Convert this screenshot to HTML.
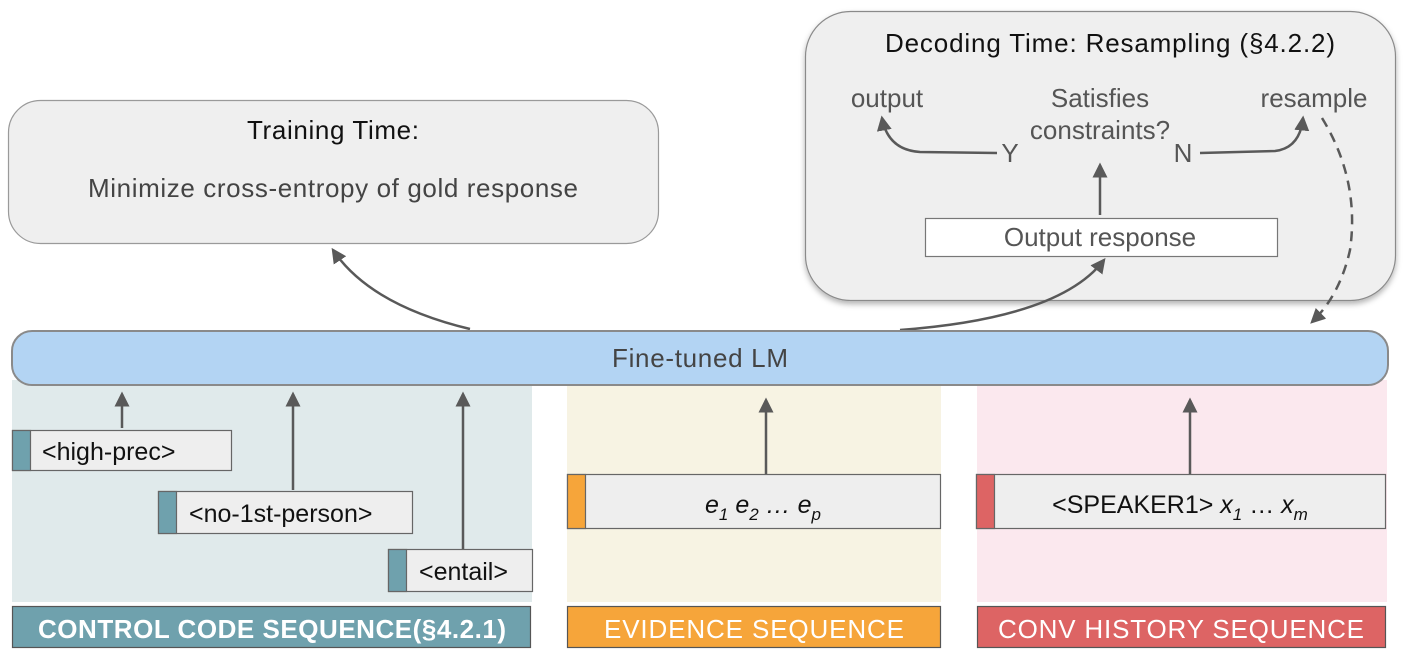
<!DOCTYPE html>
<html><head><meta charset="utf-8"><style>
html,body{margin:0;padding:0;background:#fff;}
svg{display:block;font-family:"Liberation Sans",sans-serif;}
</style></head><body>
<svg width="1409" height="661" viewBox="0 0 1409 661" xmlns="http://www.w3.org/2000/svg">
<defs>
<marker id="ah" viewBox="0 0 12 12" refX="10" refY="6" markerWidth="15" markerHeight="15" orient="auto-start-reverse" markerUnits="userSpaceOnUse">
<path d="M0,0 L12,6 L0,12 z" fill="#595959"/>
</marker>
<filter id="sh" x="-5%" y="-5%" width="110%" height="115%"><feDropShadow dx="0" dy="3" stdDeviation="3" flood-color="#000" flood-opacity="0.3"/></filter>
</defs>
<!-- panels -->
<rect x="12" y="380" width="520" height="222" fill="#e0eaeb"/>
<rect x="567" y="380" width="374" height="222" fill="#f7f3e3"/>
<rect x="977" y="380" width="410" height="222" fill="#fbe8ee"/>
<!-- training box -->
<rect x="8.5" y="100.5" width="650" height="143" rx="32" fill="#efefef" stroke="#9a9a9a" stroke-width="1.2"/>
<text x="333" y="139" font-size="26" text-anchor="middle" fill="#111" textLength="172">Training Time:</text>
<text x="333" y="197" font-size="26" text-anchor="middle" fill="#444" textLength="490">Minimize cross-entropy of gold response</text>
<!-- decoding box -->
<rect x="805.5" y="11.5" width="590" height="289" rx="45" fill="#efefef" stroke="#8a8a8a" stroke-width="1.2" filter="url(#sh)"/>
<text x="1110" y="52" font-size="26" text-anchor="middle" fill="#111" textLength="450">Decoding Time: Resampling (§4.2.2)</text>
<text x="887" y="107" font-size="26" text-anchor="middle" fill="#555">output</text>
<text x="1100" y="107" font-size="26" text-anchor="middle" fill="#555">Satisfies</text>
<text x="1100" y="139" font-size="26" text-anchor="middle" fill="#555">constraints?</text>
<text x="1314" y="107" font-size="26" text-anchor="middle" fill="#555">resample</text>
<text x="1010" y="162" font-size="26" text-anchor="middle" fill="#555">Y</text>
<text x="1183" y="162" font-size="26" text-anchor="middle" fill="#555">N</text>
<rect x="925.5" y="218.5" width="352" height="38" fill="#fff" stroke="#777" stroke-width="1.2"/>
<text x="1100" y="246" font-size="26" text-anchor="middle" fill="#555">Output response</text>
<g stroke="#595959" stroke-width="2.5" fill="none">
<path d="M997,153 L920,152 Q888,150 882,118" marker-end="url(#ah)"/>
<path d="M1200,153 L1275,151 Q1300,148 1303,118" marker-end="url(#ah)"/>
<path d="M1100,215 L1100,165" marker-end="url(#ah)"/>
<path d="M470,329 Q370,305 333,250" marker-end="url(#ah)"/>
<path d="M900,330 Q1060,318 1104,260" marker-end="url(#ah)"/>
<path d="M1322,118 Q1360,180 1350,250 Q1340,295 1312,322" stroke-dasharray="10,7" marker-end="url(#ah)"/>
</g>
<!-- LM bar -->
<rect x="12" y="331" width="1376" height="54" rx="20" fill="#b3d4f3" stroke="#8a8a8a" stroke-width="2"/>
<text x="700" y="367" font-size="26" text-anchor="middle" fill="#444" textLength="176">Fine-tuned LM</text>
<!-- token arrows -->
<g stroke="#595959" stroke-width="2.5" fill="none">
<path d="M122,428 L122,394" marker-end="url(#ah)"/>
<path d="M293,490 L293,394" marker-end="url(#ah)"/>
<path d="M463,549 L463,394" marker-end="url(#ah)"/>
<path d="M766,474 L766,400" marker-end="url(#ah)"/>
<path d="M1190,474 L1190,400" marker-end="url(#ah)"/>
</g>
<!-- tokens -->
<g stroke="#666" stroke-width="1.2">
<rect x="12.5" y="430.5" width="219" height="40" fill="#eee"/>
<rect x="12.5" y="430.5" width="18" height="40" fill="#6fa1ad"/>
<rect x="158.5" y="491.5" width="254" height="42" fill="#eee"/>
<rect x="158.5" y="491.5" width="18" height="42" fill="#6fa1ad"/>
<rect x="388.5" y="549.5" width="144" height="42" fill="#eee"/>
<rect x="388.5" y="549.5" width="18" height="42" fill="#6fa1ad"/>
<rect x="567.5" y="474.5" width="373" height="54" fill="#eee"/>
<rect x="567.5" y="474.5" width="18" height="54" fill="#f6a53a"/>
<rect x="976.5" y="474.5" width="409" height="54" fill="#eee"/>
<rect x="976.5" y="474.5" width="18" height="54" fill="#dd6464"/>
</g>
<g font-size="25" fill="#111">
<text x="42" y="460">&lt;high-prec&gt;</text>
<text x="189" y="522">&lt;no-1st-person&gt;</text>
<text x="419" y="580">&lt;entail&gt;</text>
<text x="763" y="513" text-anchor="middle" font-style="italic">e<tspan font-size="17" dy="7">1</tspan><tspan dy="-7"> e</tspan><tspan font-size="17" dy="7">2</tspan><tspan dy="-7"> … e</tspan><tspan font-size="17" dy="7">p</tspan></text>
<text x="1180" y="513" text-anchor="middle">&lt;SPEAKER1&gt; <tspan font-style="italic">x</tspan><tspan font-style="italic" font-size="17" dy="7">1</tspan><tspan dy="-7"> … </tspan><tspan font-style="italic">x</tspan><tspan font-style="italic" font-size="17" dy="7">m</tspan></text>
</g>
<!-- bottom labels -->
<g stroke="#555" stroke-width="1.2">
<rect x="12.5" y="606.5" width="518" height="41" fill="#6fa1ad"/>
<rect x="567.5" y="606.5" width="373" height="41" fill="#f6a53a"/>
<rect x="977.5" y="606.5" width="408" height="41" fill="#dd6464"/>
</g>
<text x="272" y="638" font-size="26" font-weight="bold" text-anchor="middle" fill="#fff" textLength="468">CONTROL CODE SEQUENCE(§4.2.1)</text>
<text x="754" y="638" font-size="26" text-anchor="middle" fill="#fff" textLength="300">EVIDENCE SEQUENCE</text>
<text x="1181" y="638" font-size="26" text-anchor="middle" fill="#fff" textLength="366">CONV HISTORY SEQUENCE</text>
</svg>
</body></html>
